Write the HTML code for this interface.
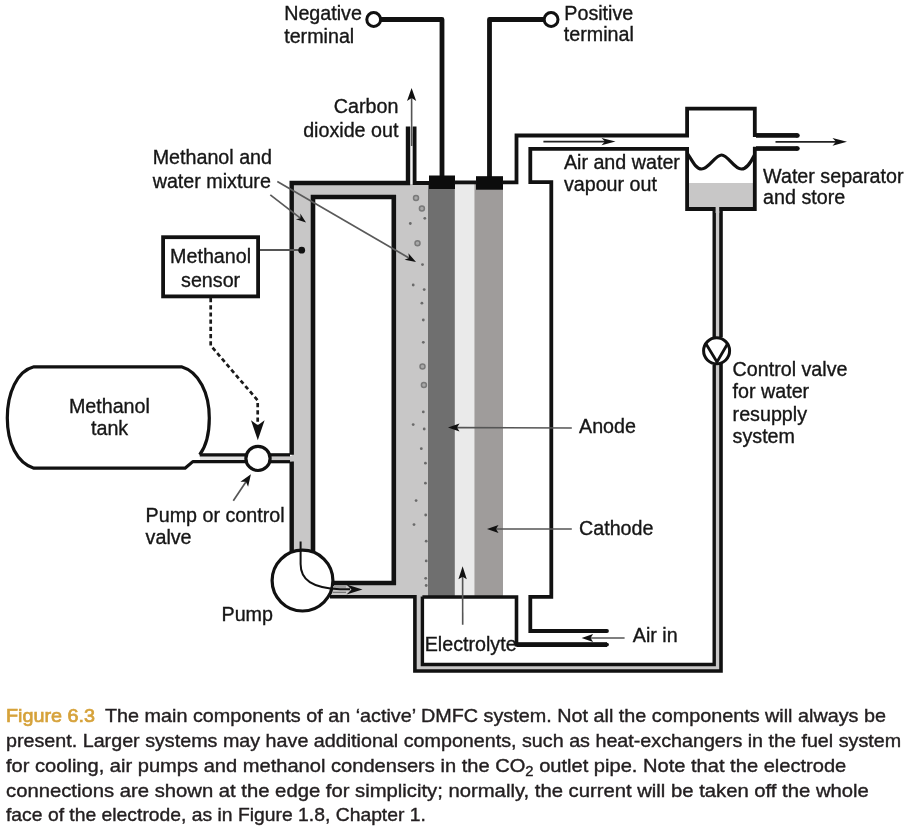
<!DOCTYPE html>
<html><head><meta charset="utf-8"><style>
html,body{margin:0;padding:0;background:#fff;}
svg{display:block;filter:blur(0.35px);}
text{font-family:"Liberation Sans", sans-serif;fill:#161616;stroke:#161616;stroke-width:0.35px;}
text.cap{fill:#231f20;stroke:#231f20;stroke-width:0.4px;}
</style></head><body>
<svg width="909" height="828" viewBox="0 0 909 828">
<rect width="909" height="828" fill="#fff"/>
<path fill-rule="evenodd" fill="#c8c7c7" d="M291.7 183 H428 V596.5 H291.7 Z M313 197 H393.8 V583 H313 Z"/>
<rect x="428" y="183" width="26.9" height="413.5" fill="#6f6f6f"/>
<rect x="454.9" y="183" width="19.5" height="413.5" fill="#eaeaea"/>
<rect x="474.4" y="183" width="28.6" height="413.5" fill="#9f9c9b"/>
<path fill="none" stroke="#c8c7c7" stroke-width="5" d="M418.6 596 V667.8 H717.6 V209"/>
<rect x="268" y="456" width="26" height="5" fill="#c8c7c7"/>
<rect x="200" y="456" width="48" height="5" fill="#e2e2e2"/>
<rect x="410" y="127" width="3" height="57" fill="#f4f4f4"/>
<rect x="689" y="183" width="64.5" height="25" fill="#c8c7c7"/>
<path d="M380 19.5 H442 V177" fill="none" stroke="#111" stroke-width="4.8" stroke-linecap="butt" stroke-linejoin="round"/>
<path d="M544.5 19.5 H489.5 V177" fill="none" stroke="#111" stroke-width="4.8" stroke-linecap="butt" stroke-linejoin="round"/>
<circle cx="373.7" cy="19.5" r="6.9" fill="#fff" stroke="#111" stroke-width="3"/>
<circle cx="551.1" cy="19.5" r="6.9" fill="#fff" stroke="#111" stroke-width="3"/>
<rect x="429" y="175.5" width="26" height="13.5" fill="#0c0c0c"/>
<rect x="476" y="176.2" width="27" height="13.5" fill="#0c0c0c"/>
<path d="M291.7 551 V461.5 M291.7 454.8 V183 H408 V126.5" fill="none" stroke="#111" stroke-width="4.4" stroke-linecap="butt" stroke-linejoin="miter"/>
<path d="M414.6 126.5 V183 H430" fill="none" stroke="#111" stroke-width="3.8" stroke-linecap="butt" stroke-linejoin="miter"/>
<path d="M454 182.4 H477" fill="none" stroke="#111" stroke-width="3.8" stroke-linecap="butt" stroke-linejoin="miter"/>
<path d="M502 182.4 H516.5 V135.5 H687.1 V108.6 H754.8 V135.2 H797.5" fill="none" stroke="#111" stroke-width="3.8" stroke-linecap="butt" stroke-linejoin="miter"/>
<path d="M607 631 H530.3 V596.8 H551.3 V182.1 H530.3 V148.8 H687.1 V209 H754.8 V148.6 H797.5" fill="none" stroke="#111" stroke-width="3.8" stroke-linecap="butt" stroke-linejoin="miter"/>
<path d="M756 135.4 H797.5 M756 148.6 H797.5" fill="none" stroke="#111" stroke-width="4.5" stroke-linecap="butt" stroke-linejoin="miter"/>
<circle cx="797.5" cy="135.4" r="2.25" fill="#111"/><circle cx="797.5" cy="148.6" r="2.25" fill="#111"/>
<path d="M313 551 V197 H393.8 V583 H332" fill="none" stroke="#111" stroke-width="4.6" stroke-linecap="butt" stroke-linejoin="miter"/>
<path d="M330 596.8 H414.9 V671 H721 V351" fill="none" stroke="#111" stroke-width="3.6" stroke-linecap="butt" stroke-linejoin="miter"/>
<path d="M721 337 V208.5" fill="none" stroke="#111" stroke-width="3.6" stroke-linecap="butt" stroke-linejoin="miter"/>
<path d="M422.4 596.5 V664.5 H714.2 V365" fill="none" stroke="#111" stroke-width="3.4" stroke-linecap="butt" stroke-linejoin="miter"/>
<path d="M714.2 337 V209" fill="none" stroke="#111" stroke-width="3.4" stroke-linecap="butt" stroke-linejoin="miter"/>
<path d="M422.4 597 H516.5 V644.6 H607" fill="none" stroke="#111" stroke-width="3.6" stroke-linecap="butt" stroke-linejoin="miter"/>
<path d="M516.5 644.6 H607" fill="none" stroke="#111" stroke-width="4.6" stroke-linecap="butt" stroke-linejoin="miter"/>
<circle cx="607" cy="631" r="1.9" fill="#111"/><circle cx="607" cy="644.6" r="1.9" fill="#111"/>
<rect x="715.6" y="205" width="3.6" height="8" fill="#c8c7c7"/>
<rect x="163.1" y="237.2" width="95" height="59.2" fill="#fff" stroke="#111" stroke-width="3.8"/>
<path d="M260 250 H300" fill="none" stroke="#555" stroke-width="1.8" stroke-linecap="butt" stroke-linejoin="miter"/>
<circle cx="301.7" cy="250.2" r="3.4" fill="#111"/>
<path d="M210.7 298 V345.5 L257.7 400.5 V427" fill="none" stroke="#1a1a1a" stroke-width="2.7" stroke-dasharray="4.2 3"/>
<path d="M257.8 440.2 L251.0 420.2 L257.8 425.2 L264.6 420.2 Z" fill="#111"/>
<path d="M199.7 454.8 C205.5 447 209.3 434 209.3 418 C209.3 393 199 372 181.5 366.8 H33.9 C17 371 7.3 393 7.3 418 C7.3 443 17 463 33.9 468.2 H185 L192.8 461.6 H247" fill="none" stroke="#111" stroke-width="3.2" stroke-linecap="butt" stroke-linejoin="round"/>
<path d="M199.7 454.8 H247" fill="none" stroke="#111" stroke-width="3.2" stroke-linecap="butt" stroke-linejoin="miter"/>
<path d="M269 454.8 H290" fill="none" stroke="#111" stroke-width="3.2" stroke-linecap="butt" stroke-linejoin="miter"/>
<path d="M269 461.7 H290" fill="none" stroke="#111" stroke-width="3.2" stroke-linecap="butt" stroke-linejoin="miter"/>
<circle cx="258" cy="458.4" r="12.1" fill="#fff" stroke="#111" stroke-width="3.2"/>
<path d="M233.3 500.7 L246.5 481.0" stroke="#555" stroke-width="1.7" fill="none"/>
<path d="M250.9 474.3 L248.1 486.8 L245.9 481.8 L240.4 481.7 Z" fill="#111"/>
<circle cx="302.5" cy="580.6" r="30.4" fill="#fff" stroke="#111" stroke-width="3.2"/>
<rect x="333" y="586" width="30" height="8" fill="#c8c7c7"/>
<path d="M333 587 H346 M333 592.3 H346" fill="none" stroke="#777" stroke-width="1.2" stroke-linecap="butt" stroke-linejoin="miter"/>
<path d="M300.6 541.5 V564 C300.6 580 312 588 340 589.3 H350" fill="none" stroke="#111" stroke-width="2" stroke-linecap="butt" stroke-linejoin="miter"/>
<path d="M362.5 589.5 L346.5 594.5 L351.5 589.5 L346.5 584.5 Z" fill="#111"/>
<path d="M411.7 146.0 L411.6 97.0" stroke="#555" stroke-width="1.6" fill="none"/>
<path d="M411.6 88.0 L416.2 101.0 L411.6 98.0 L407.0 101.0 Z" fill="#111"/>
<path d="M687.5 153.5 C693 162 696 169 701.5 169 C709 169 715 155 721.6 155 C728 155 734 169 741.3 169 C747 169 751 162 754.5 155" fill="none" stroke="#111" stroke-width="3.2" stroke-linecap="butt" stroke-linejoin="round"/>
<path d="M543.4 141.6 L606.0 141.6" stroke="#222" stroke-width="1.7" fill="none"/>
<path d="M615.5 141.6 L601.5 145.3 L605.0 141.6 L601.5 137.9 Z" fill="#111"/>
<path d="M775.5 141.8 L837.0 141.8" stroke="#222" stroke-width="1.7" fill="none"/>
<path d="M847.0 141.8 L832.5 145.7 L836.0 141.8 L832.5 137.9 Z" fill="#111"/>
<circle cx="716.6" cy="350.8" r="13" fill="#fff" stroke="#111" stroke-width="3"/>
<path d="M705.5 343 L717 362 L728 343" fill="none" stroke="#111" stroke-width="2.8" stroke-linecap="butt" stroke-linejoin="miter"/>
<path d="M571.8 428.0 L456.0 427.6" stroke="#555" stroke-width="1.6" fill="none"/>
<path d="M448.0 427.6 L459.5 423.6 L457.0 427.6 L459.5 431.6 Z" fill="#111"/>
<path d="M571.8 529.0 L495.0 529.0" stroke="#555" stroke-width="1.6" fill="none"/>
<path d="M487.0 529.0 L498.5 525.0 L496.0 529.0 L498.5 533.0 Z" fill="#111"/>
<path d="M462.7 624.7 L462.6 575.8" stroke="#555" stroke-width="1.6" fill="none"/>
<path d="M462.6 566.3 L466.8 579.3 L462.6 576.8 L458.4 579.3 Z" fill="#111"/>
<path d="M624.6 638.0 L589.6 638.0" stroke="#555" stroke-width="1.6" fill="none"/>
<path d="M581.6 638.0 L593.1 634.0 L590.6 638.0 L593.1 642.0 Z" fill="#111"/>
<path d="M277.3 181.4 L409.9 258.5" stroke="#5a5a5a" stroke-width="1.7" fill="none"/>
<path d="M416.0 262.0 L404.6 259.8 L409.1 258.0 L408.4 253.2 Z" fill="#111"/>
<path d="M270.3 194.9 L301.3 218.8" stroke="#5a5a5a" stroke-width="1.7" fill="none"/>
<path d="M306.0 222.5 L295.9 219.2 L300.5 218.2 L300.3 213.5 Z" fill="#111"/>
<circle cx="416" cy="198" r="2.5" fill="#a8a8a8" stroke="#7a7a7a" stroke-width="1.5"/>
<circle cx="421.9" cy="208.4" r="2.5" fill="#a8a8a8" stroke="#7a7a7a" stroke-width="1.5"/>
<circle cx="417.5" cy="243.2" r="2.5" fill="#a8a8a8" stroke="#7a7a7a" stroke-width="1.5"/>
<circle cx="422.5" cy="366.4" r="2.5" fill="#a8a8a8" stroke="#7a7a7a" stroke-width="1.5"/>
<circle cx="423.9" cy="385" r="2.5" fill="#a8a8a8" stroke="#7a7a7a" stroke-width="1.5"/>
<circle cx="424.8" cy="218.3" r="1.4" fill="#6a6a6a"/>
<circle cx="410.3" cy="223.5" r="1.4" fill="#6a6a6a"/>
<circle cx="422.5" cy="264.6" r="1.4" fill="#6a6a6a"/>
<circle cx="413.2" cy="285" r="1.4" fill="#6a6a6a"/>
<circle cx="424.2" cy="289.6" r="1.4" fill="#6a6a6a"/>
<circle cx="421.9" cy="303.2" r="1.4" fill="#6a6a6a"/>
<circle cx="423.3" cy="320" r="1.4" fill="#6a6a6a"/>
<circle cx="423.3" cy="342.3" r="1.4" fill="#6a6a6a"/>
<circle cx="423.3" cy="411.9" r="1.4" fill="#6a6a6a"/>
<circle cx="413.2" cy="424.6" r="1.4" fill="#6a6a6a"/>
<circle cx="424.2" cy="429" r="1.4" fill="#6a6a6a"/>
<circle cx="421.3" cy="448.7" r="1.4" fill="#6a6a6a"/>
<circle cx="425.4" cy="463.2" r="1.4" fill="#6a6a6a"/>
<circle cx="425.4" cy="483.2" r="1.4" fill="#6a6a6a"/>
<circle cx="416.1" cy="500.6" r="1.4" fill="#6a6a6a"/>
<circle cx="425.7" cy="515" r="1.4" fill="#6a6a6a"/>
<circle cx="414" cy="524.6" r="1.4" fill="#6a6a6a"/>
<circle cx="426.2" cy="541.2" r="1.4" fill="#6a6a6a"/>
<circle cx="426.2" cy="560.9" r="1.4" fill="#6a6a6a"/>
<circle cx="425.7" cy="578.3" r="1.4" fill="#6a6a6a"/>
<circle cx="426.2" cy="585.5" r="1.4" fill="#6a6a6a"/>
<g>
<text x="284.2" y="19.8" text-anchor="start" font-size="19.7" >Negative</text>
<text x="284.2" y="42.9" text-anchor="start" font-size="19.7" >terminal</text>
<text x="564.3" y="19.6" text-anchor="start" font-size="19.7" >Positive</text>
<text x="563.8" y="41.4" text-anchor="start" font-size="19.7" >terminal</text>
<text x="398.4" y="112.9" text-anchor="end" font-size="19.7" >Carbon</text>
<text x="398.4" y="137.2" text-anchor="end" font-size="19.7" >dioxide out</text>
<text x="152.7" y="163.8" text-anchor="start" font-size="19.7" >Methanol and</text>
<text x="152.7" y="187.8" text-anchor="start" font-size="19.7" >water mixture</text>
<text x="563.9" y="169" text-anchor="start" font-size="19.7" >Air and water</text>
<text x="563.9" y="190.9" text-anchor="start" font-size="19.7" >vapour out</text>
<text x="763.1" y="182.9" text-anchor="start" font-size="19.7" >Water separator</text>
<text x="763.1" y="204" text-anchor="start" font-size="19.7" >and store</text>
<text x="210.6" y="263.3" text-anchor="middle" font-size="19.7" >Methanol</text>
<text x="210.6" y="286.9" text-anchor="middle" font-size="19.7" >sensor</text>
<text x="109.4" y="412.6" text-anchor="middle" font-size="19.7" >Methanol</text>
<text x="109.6" y="434.9" text-anchor="middle" font-size="19.7" >tank</text>
<text x="732.6" y="376.2" text-anchor="start" font-size="19.7" >Control valve</text>
<text x="732.6" y="398.4" text-anchor="start" font-size="19.7" >for water</text>
<text x="732.6" y="420.8" text-anchor="start" font-size="19.7" >resupply</text>
<text x="732.6" y="442.8" text-anchor="start" font-size="19.7" >system</text>
<text x="579" y="433.2" text-anchor="start" font-size="19.7" >Anode</text>
<text x="579" y="534.6" text-anchor="start" font-size="19.7" >Cathode</text>
<text x="145.6" y="522.1" text-anchor="start" font-size="19.7" >Pump or control</text>
<text x="145.6" y="543.6" text-anchor="start" font-size="19.7" >valve</text>
<text x="221.5" y="620.9" text-anchor="start" font-size="19.7" >Pump</text>
<text x="424.7" y="650.6" text-anchor="start" font-size="19.7" >Electrolyte</text>
<text x="632.8" y="642.3" text-anchor="start" font-size="19.7" >Air in</text>
</g>
<g style="fill:#231f20">
<text class="cap" x="6" y="722" font-size="19" textLength="880" lengthAdjust="spacingAndGlyphs"><tspan fill="#d6a23a" stroke="#d6a23a" stroke-width="0.7">Figure 6.3</tspan> The main components of an ‘active’ DMFC system. Not all the components will always be</text>
<text class="cap" x="6" y="746.6" font-size="19" textLength="895.1" lengthAdjust="spacingAndGlyphs">present. Larger systems may have additional components, such as heat-exchangers in the fuel system</text>
<text class="cap" x="6" y="771.8" font-size="19" textLength="840.3" lengthAdjust="spacingAndGlyphs">for cooling, air pumps and methanol condensers in the CO<tspan font-size="14" dy="4">2</tspan><tspan dy="-4"> outlet pipe. Note that the electrode</tspan></text>
<text class="cap" x="6" y="797.3" font-size="19" textLength="862.8" lengthAdjust="spacingAndGlyphs">connections are shown at the edge for simplicity; normally, the current will be taken off the whole</text>
<text class="cap" x="6" y="821" font-size="19" textLength="419.9" lengthAdjust="spacingAndGlyphs">face of the electrode, as in Figure 1.8, Chapter 1.</text>
</g>
</svg>
</body></html>
